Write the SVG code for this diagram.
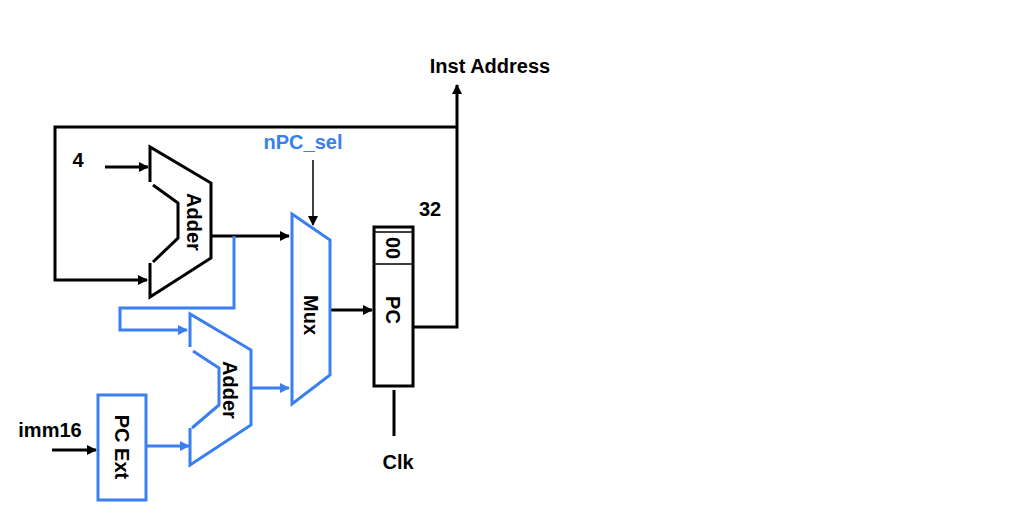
<svg xmlns="http://www.w3.org/2000/svg" width="1024" height="527" viewBox="0 0 1024 527">
<defs>
<marker id="ah" viewBox="0 0 10 10" refX="9" refY="5" markerWidth="10" markerHeight="10" markerUnits="userSpaceOnUse" orient="auto"><path d="M0,0L10,5L0,10z" fill="#000"/></marker>
<marker id="ahb" viewBox="0 0 10 10" refX="9" refY="5" markerWidth="10" markerHeight="10" markerUnits="userSpaceOnUse" orient="auto"><path d="M0,0L10,5L0,10z" fill="#3a7ff0"/></marker>
<style>
.k{stroke:#000;stroke-width:3;fill:none}
.b{stroke:#3a7ff0;stroke-width:3;fill:none}
.t{font-family:"Liberation Sans",Arial,sans-serif;font-weight:bold;font-size:20px;fill:#000}
</style>
</defs>
<rect width="1024" height="527" fill="#fff"/>
<g id="connectors">
<path class="k" d="M413,327H457V85" marker-end="url(#ah)"/>
<path class="k" d="M457,127H55V280H147" marker-end="url(#ah)"/>
<path class="k" d="M105,167H148" marker-end="url(#ah)"/>
<path class="k" d="M212,236H289" marker-end="url(#ah)"/>
<path class="b" d="M234,236V308H120V330H187" marker-end="url(#ahb)"/>
<path class="b" d="M251,388H289" marker-end="url(#ahb)"/>
<path class="b" d="M146,446H189" marker-end="url(#ahb)"/>
<path class="k" d="M52,450H96" marker-end="url(#ah)"/>
<path d="M313,160V225" stroke="#000" stroke-width="1.5" marker-end="url(#ah)"/>
<path class="k" d="M331,310H372" marker-end="url(#ah)"/>
<path class="k" d="M394,390V436"/>
</g>
<g id="adder1">
<path class="k" d="M150,182V147L211,183V258L150,297V263M153,185L178,203V238L153,262"/>
<text class="t" transform="translate(187,222) rotate(90)" text-anchor="middle">Adder</text>
</g>
<g id="adder2">
<path class="b" d="M190,347V314L251,350V425L190,465V428M193,351L219,368V405L192,428"/>
<text class="t" transform="translate(223,390) rotate(90)" text-anchor="middle">Adder</text>
</g>
<g id="mux">
<path class="b" d="M292,214L330,240V375L292,404Z"/>
<text class="t" transform="translate(304,315) rotate(90)" text-anchor="middle">Mux</text>
</g>
<g id="pc">
<rect class="k" x="374" y="227" width="39" height="159"/>
<path d="M375,232H412" stroke="#000" stroke-width="1.5"/>
<path d="M375,264H412" stroke="#000" stroke-width="1.5"/>
<text class="t" transform="translate(386,248) rotate(90)" text-anchor="middle">00</text>
<text class="t" transform="translate(386,310) rotate(90)" text-anchor="middle">PC</text>
</g>
<g id="pcext">
<rect class="b" x="98" y="395" width="48" height="105"/>
<text class="t" transform="translate(115,447) rotate(90)" text-anchor="middle">PC Ext</text>
</g>
<g id="labels">
<text class="t" x="490" y="73" text-anchor="middle">Inst Address</text>
<text class="t" x="303" y="149" text-anchor="middle" fill="#3a7ff0" style="fill:#3a7ff0">nPC_sel</text>
<text class="t" x="78" y="167" text-anchor="middle">4</text>
<text class="t" x="430" y="216" text-anchor="middle">32</text>
<text class="t" x="50" y="437" text-anchor="middle">imm16</text>
<text class="t" x="398" y="469" text-anchor="middle">Clk</text>
</g>
</svg>
